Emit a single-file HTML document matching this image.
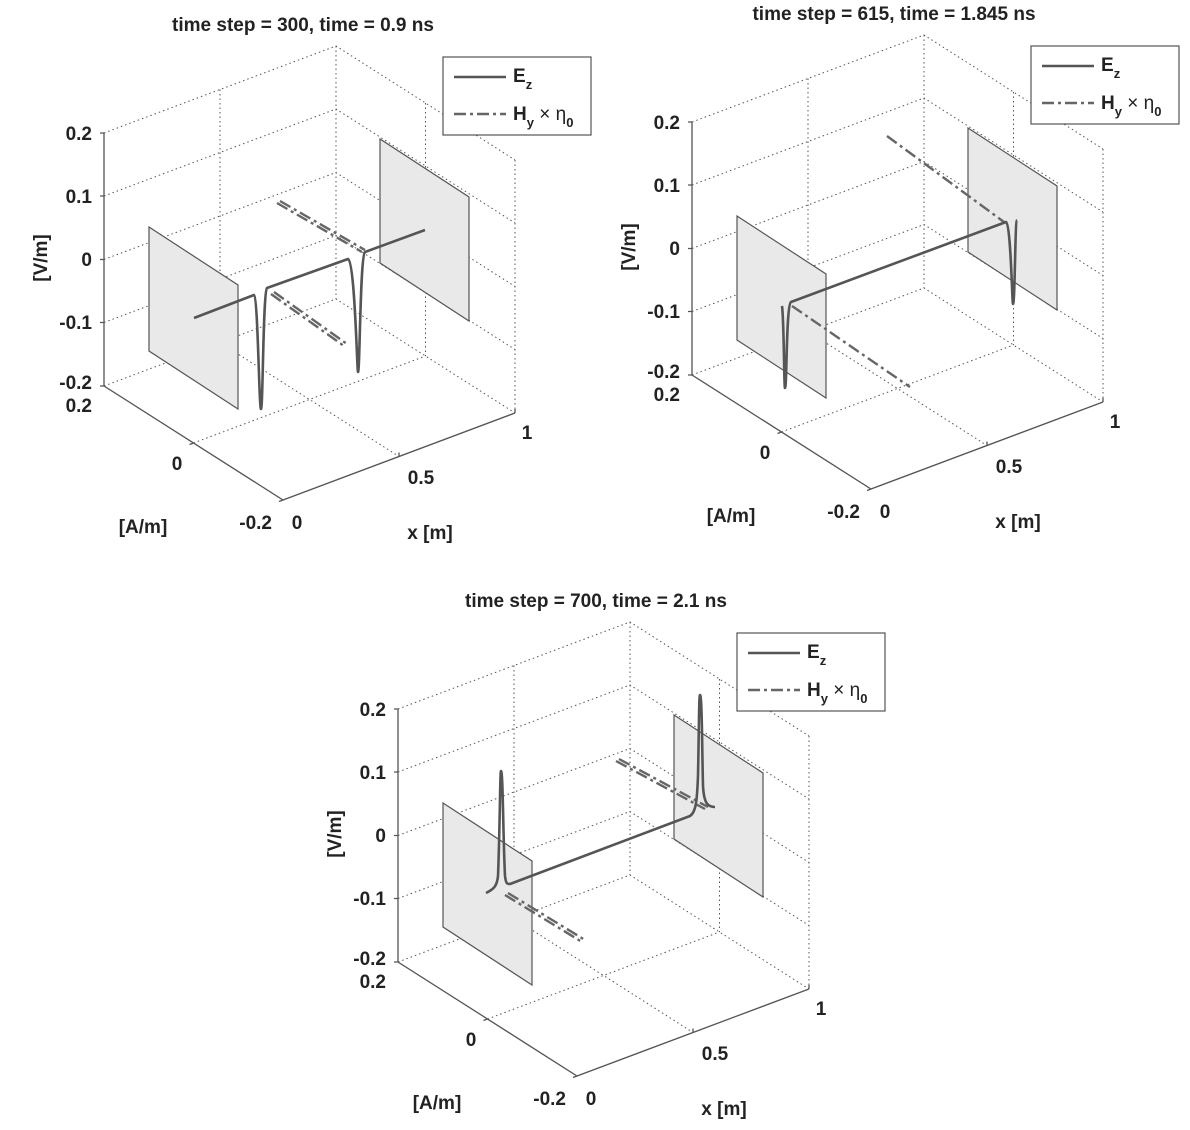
<!DOCTYPE html>
<html><head><meta charset="utf-8"><style>
html,body{margin:0;padding:0;background:#fff;}
svg{display:block;font-family:"Liberation Sans",sans-serif;font-weight:bold;}
.t{font-size:19px;fill:#222;}
.ax{fill:none;stroke:#555;stroke-width:1.3;}
.dt{fill:none;stroke:#555;stroke-width:1;stroke-dasharray:1.5,3;}
.pn{fill:#e9e9e9;stroke:#555;stroke-width:1.2;}
.ez{fill:none;stroke:#555;stroke-width:2.6;stroke-linejoin:round;}
.hy{fill:none;stroke:#666;stroke-width:2.4;stroke-dasharray:12,4,3,4;}
</style></head><body>
<svg width="1190" height="1130" viewBox="0 0 1190 1130">
<defs>
<g id="frame">
<path class="dt" d="M104,133 L336,46 L515,160 M104,196 L336,109 L515,223 M104,259.5 L336,172.5 L515,286.5 M104,322.5 L336,235.5 L515,349.5 M104,386 L336,299 L515,413 M220,89.5 V342.5 M336,46 V299 M425.5,103 V356 M515,160 V413 M220,342.5 L399,456.5 M193.5,443 L425.5,356"/>
<path class="ax" d="M104,133 V386 L283,500 L515,413 M104,133 h-4 M104,196 h-4 M104,259.5 h-4 M104,322.5 h-4 M104,386 h-4 M193.5,443 l-4,1.5 M283,500 l-4,1.5 M399,456.5 l0,-4 M515,413 l0,-4"/>
<rect x="443" y="57" width="148" height="78" fill="#fff" stroke="#555" stroke-width="1.2"/>
<line x1="454" y1="77" x2="506" y2="77" stroke="#555" stroke-width="2.6"/>
<line x1="454" y1="114" x2="506" y2="114" stroke="#666" stroke-width="2.4" stroke-dasharray="12,4,3,4"/>
<path class="pn" d="M149,227 L238,285 L238,409 L149,351 Z"/>
<path class="pn" d="M380,139 L469,197 L469,321 L380,263 Z"/>
</g>
</defs>

<g transform="translate(0,0)">
<use href="#frame"/>
<path class="hy" d="M277,203 L362,252 M280,201 L365,250"/>
<path class="hy" d="M271,294 L344,346 M274,292 L347,344"/>
<path class="ez" d="M194,318 L254,295 C258,297 259,409 261,409 C263,409 263,292 267,288 L348,259 C355,262 357,372 358,372 C360,372 360,256 365,252 L425,230"/>
<g class="t">
<text x="303" y="31" text-anchor="middle">time step = 300, time = 0.9 ns</text>
<text x="513" y="82">E<tspan font-size="13" dy="7">z</tspan></text>
<text x="513" y="120">H<tspan font-size="13" dy="7">y</tspan><tspan dy="-7" font-weight="normal"> × η</tspan><tspan font-size="13" dy="7">0</tspan></text>
<text x="92" y="140" text-anchor="end">0.2</text>
<text x="92" y="203" text-anchor="end">0.1</text>
<text x="92" y="266" text-anchor="end">0</text>
<text x="92" y="329" text-anchor="end">-0.1</text>
<text x="92" y="389" text-anchor="end">-0.2</text>
<text x="92" y="412" text-anchor="end">0.2</text>
<text x="177" y="470" text-anchor="middle">0</text>
<text x="272" y="529" text-anchor="end">-0.2</text>
<text x="297" y="529" text-anchor="middle">0</text>
<text x="421" y="484" text-anchor="middle">0.5</text>
<text x="527" y="439" text-anchor="middle">1</text>
<text x="143" y="533" text-anchor="middle">[A/m]</text>
<text x="430" y="539" text-anchor="middle">x [m]</text>
<text transform="translate(47,258) rotate(-90)" text-anchor="middle">[V/m]</text>
</g>
</g>

<g transform="translate(588,-11)">
<use href="#frame"/>
<path class="hy" d="M299,147 L416,233"/>
<path class="hy" d="M204,317 L322,398"/>
<path class="ez" d="M194,317 C196,330 196,399 197,399 C199,399 198,316 203,313 L418,233 C423,236 424,315 425,315 C427,315 427,232 429,231"/>
<g class="t">
<text x="306" y="31" text-anchor="middle">time step = 615, time = 1.845 ns</text>
<text x="513" y="82">E<tspan font-size="13" dy="7">z</tspan></text>
<text x="513" y="120">H<tspan font-size="13" dy="7">y</tspan><tspan dy="-7" font-weight="normal"> × η</tspan><tspan font-size="13" dy="7">0</tspan></text>
<text x="92" y="140" text-anchor="end">0.2</text>
<text x="92" y="203" text-anchor="end">0.1</text>
<text x="92" y="266" text-anchor="end">0</text>
<text x="92" y="329" text-anchor="end">-0.1</text>
<text x="92" y="389" text-anchor="end">-0.2</text>
<text x="92" y="412" text-anchor="end">0.2</text>
<text x="177" y="470" text-anchor="middle">0</text>
<text x="272" y="529" text-anchor="end">-0.2</text>
<text x="297" y="529" text-anchor="middle">0</text>
<text x="421" y="484" text-anchor="middle">0.5</text>
<text x="527" y="439" text-anchor="middle">1</text>
<text x="143" y="533" text-anchor="middle">[A/m]</text>
<text x="430" y="539" text-anchor="middle">x [m]</text>
<text transform="translate(47,258) rotate(-90)" text-anchor="middle">[V/m]</text>
</g>
</g>

<g transform="translate(294,576)">
<use href="#frame"/>
<path class="hy" d="M325,183 L414,231 M322,185 L411,233"/>
<path class="hy" d="M214,317 L291,364 M211,319 L288,366"/>
<path class="ez" d="M192,317 C200,313 203,310 204,300 C206,250 206,195 207,195 C209,195 209,260 211,300 C212,308 213,308 216,308 L396,240 C402,236 403,225 404,200 C405,150 405,119 406,119 C408,119 408,170 409,210 C410,228 414,231 421,231"/>
<g class="t">
<text x="302" y="31" text-anchor="middle">time step = 700, time = 2.1 ns</text>
<text x="513" y="82">E<tspan font-size="13" dy="7">z</tspan></text>
<text x="513" y="120">H<tspan font-size="13" dy="7">y</tspan><tspan dy="-7" font-weight="normal"> × η</tspan><tspan font-size="13" dy="7">0</tspan></text>
<text x="92" y="140" text-anchor="end">0.2</text>
<text x="92" y="203" text-anchor="end">0.1</text>
<text x="92" y="266" text-anchor="end">0</text>
<text x="92" y="329" text-anchor="end">-0.1</text>
<text x="92" y="389" text-anchor="end">-0.2</text>
<text x="92" y="412" text-anchor="end">0.2</text>
<text x="177" y="470" text-anchor="middle">0</text>
<text x="272" y="529" text-anchor="end">-0.2</text>
<text x="297" y="529" text-anchor="middle">0</text>
<text x="421" y="484" text-anchor="middle">0.5</text>
<text x="527" y="439" text-anchor="middle">1</text>
<text x="143" y="533" text-anchor="middle">[A/m]</text>
<text x="430" y="539" text-anchor="middle">x [m]</text>
<text transform="translate(47,258) rotate(-90)" text-anchor="middle">[V/m]</text>
</g>
</g>
</svg>
</body></html>
